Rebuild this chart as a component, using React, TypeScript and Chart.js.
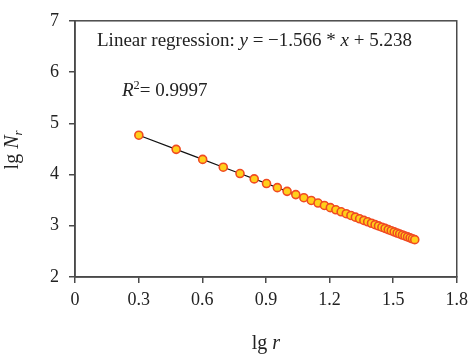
import React, { useEffect, useRef } from "react";
import { Chart, registerables } from "chart.js";

Chart.register(...registerables);

const lgR: number[] = [
  0.301, 0.477, 0.602, 0.699, 0.778, 0.845, 0.903, 0.954, 1.0, 1.041,
  1.079, 1.114, 1.146, 1.176, 1.204, 1.23, 1.255, 1.279, 1.301, 1.322,
  1.342, 1.362, 1.38, 1.398, 1.415, 1.431, 1.447, 1.462, 1.477, 1.491,
  1.505, 1.519, 1.531, 1.544, 1.556, 1.568, 1.58, 1.591, 1.602,
];
const lgNr: number[] = [
  4.767, 4.491, 4.295, 4.143, 4.019, 3.915, 3.824, 3.744, 3.672, 3.608,
  3.548, 3.494, 3.443, 3.396, 3.353, 3.312, 3.273, 3.235, 3.201, 3.168,
  3.136, 3.105, 3.077, 3.049, 3.022, 2.997, 2.972, 2.949, 2.925, 2.903,
  2.881, 2.859, 2.84, 2.82, 2.801, 2.783, 2.764, 2.746, 2.729,
];
const xTicks: number[] = [0, 0.3, 0.6, 0.9, 1.2, 1.5, 1.8];
const yTicks: number[] = [2, 3, 4, 5, 6, 7];

const FONT = "'Liberation Serif', 'DejaVu Serif', serif";
const FS = 18;
const FS_ANN = 19;
const FS_TITLE = 20;
const AXIS = "#4a4a4a";
const TXT = "#222";

type Seg = { t: string; it?: boolean; sup?: boolean; sub?: boolean };

function segFont(s: Seg, size: number) {
  const fs = s.sup || s.sub ? size * 0.65 : size;
  return `${s.it ? "italic " : ""}${fs}px ${FONT}`;
}

function richWidth(ctx: CanvasRenderingContext2D, segs: Seg[], size: number) {
  let w = 0;
  for (const s of segs) {
    ctx.font = segFont(s, size);
    w += ctx.measureText(s.t).width;
  }
  return w;
}

function drawRich(ctx: CanvasRenderingContext2D, x: number, y: number, segs: Seg[], size: number) {
  let cx = x;
  for (const s of segs) {
    ctx.font = segFont(s, size);
    const dy = s.sup ? -size * 0.38 : s.sub ? size * 0.22 : 0;
    ctx.fillText(s.t, cx, y + dy);
    cx += ctx.measureText(s.t).width;
  }
}

const textPlugin = {
  id: "textPlugin",
  afterDraw(chart: any) {
    const ctx: CanvasRenderingContext2D = chart.ctx;
    const a = chart.chartArea;
    ctx.save();
    ctx.strokeStyle = AXIS;
    ctx.lineWidth = 1.5;
    ctx.strokeRect(a.left, a.top, a.right - a.left, a.bottom - a.top);
    ctx.fillStyle = TXT;
    ctx.textBaseline = "alphabetic";
    ctx.textAlign = "left";
    drawRich(ctx, 97, 46, [
      { t: "Linear regression: " },
      { t: "y", it: true },
      { t: " = \u22121.566 * " },
      { t: "x", it: true },
      { t: " + 5.238" },
    ], FS_ANN);
    drawRich(ctx, 122, 96, [
      { t: "R", it: true },
      { t: "2", sup: true },
      { t: "= 0.9997" },
    ], FS_ANN);
    // x title
    const xs: Seg[] = [{ t: "lg " }, { t: "r", it: true }];
    let w = richWidth(ctx, xs, FS_TITLE);
    drawRich(ctx, (a.left + a.right) / 2 - w / 2, 349, xs, FS_TITLE);
    // y title
    const ys: Seg[] = [{ t: "lg " }, { t: "N", it: true }, { t: "r", it: true, sub: true }];
    w = richWidth(ctx, ys, FS_TITLE);
    ctx.translate(18, (a.top + a.bottom) / 2 + 1);
    ctx.rotate(-Math.PI / 2);
    drawRich(ctx, -w / 2, 0, ys, FS_TITLE);
    ctx.restore();
  },
};

export default function App() {
  const ref = useRef<HTMLCanvasElement>(null);
  useEffect(() => {
    if (!ref.current) return;
    const pts = lgR.map((x, i) => ({ x, y: lgNr[i] }));
    const chart = new Chart(ref.current, {
      type: "scatter",
      data: {
        datasets: [
          {
            data: pts,
            showLine: true,
            borderColor: "#111",
            borderWidth: 1.2,
            pointRadius: 4,
            pointBorderWidth: 1.6,
            pointBackgroundColor: "#ffcf1a",
            pointBorderColor: "#f04a22",
          } as any,
        ],
      },
      options: {
        animation: false,
        responsive: false,
        events: [],
        layout: { padding: { top: 12, right: 12, left: 0, bottom: 0 } },
        plugins: { legend: { display: false }, tooltip: { enabled: false } },
        scales: {
          x: {
            type: "linear",
            min: 0,
            max: 1.8,
            afterBuildTicks: (s: any) => { s.ticks = xTicks.map((v) => ({ value: v })); },
            afterFit: (s: any) => { s.height = 79; },
            border: { display: true, color: AXIS, width: 1.5 },
            grid: { drawOnChartArea: false, drawTicks: true, tickLength: 6, color: AXIS, lineWidth: 1.5 },
            ticks: { color: TXT, font: { family: FONT, size: FS }, padding: 6, maxRotation: 0, callback: (v: any) => String(v) },
          },
          y: {
            type: "linear",
            min: 2,
            max: 7,
            afterBuildTicks: (s: any) => { s.ticks = yTicks.map((v) => ({ value: v })); },
            afterFit: (s: any) => { s.width = 75; },
            border: { display: true, color: AXIS, width: 1.5 },
            grid: { drawOnChartArea: false, drawTicks: true, tickLength: 6, color: AXIS, lineWidth: 1.5 },
            ticks: { color: TXT, font: { family: FONT, size: FS }, padding: 10, callback: (v: any) => String(v) },
          },
        },
      },
      plugins: [textPlugin],
    });
    return () => chart.destroy();
  }, []);
  return (
    <div style={{ position: "fixed", left: 0, top: 0, width: 474, height: 356, background: "#fff" }}>
      <canvas ref={ref} width={474} height={356} style={{ display: "block" }} />
    </div>
  );
}
